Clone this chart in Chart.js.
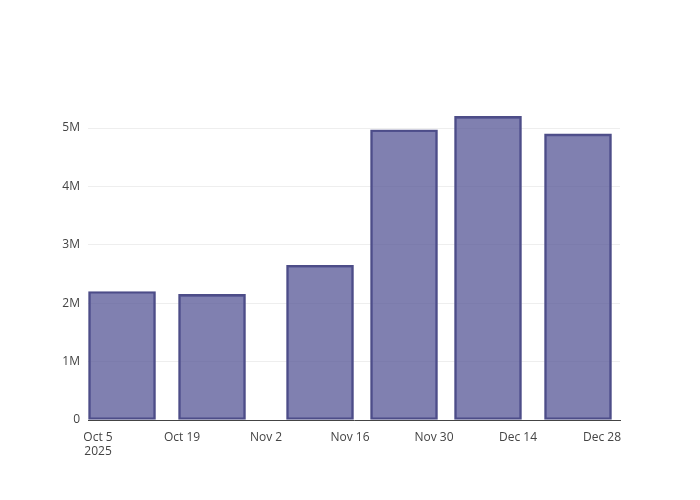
<!DOCTYPE html>
<html>
<head>
<script src="https://cdn.jsdelivr.net/npm/chart.js@4"></script>
<style>body{margin:0;background:#fff}#wrap{width:700px;height:500px}</style>
</head>
<body>
<div id="wrap"><canvas id="c"></canvas></div>
<script>
// days since Oct 5 2025
var barDays = [4, 19, 37, 51, 65, 80];
var barValues = [2200000, 2150000, 2650000, 4970000, 5200000, 4900000];
var tickDays = [0, 14, 28, 42, 56, 70, 84];
var tickLabels = [['Oct 5', '2025'], 'Oct 19', 'Nov 2', 'Nov 16', 'Nov 30', 'Dec 14', 'Dec 28'];

var ctx = document.getElementById('c').getContext('2d');
new Chart(ctx, {
    type: 'bar',
    data: {
        datasets: [{
            data: barDays.map((d, i) => ({x: d, y: barValues[i]})),
            backgroundColor: 'rgba(85, 85, 150, 0.75)',
            borderColor: '#4d4d88',
            borderWidth: 2,
            borderSkipped: false,
            barThickness: 67
        }]
    },
    options: {
        responsive: true,
        maintainAspectRatio: false,
        animation: false,
        layout: {padding: {left: 0, right: 80, top: 100, bottom: 0}},
        plugins: {legend: {display: false}, tooltip: {enabled: false}},
        scales: {
            x: {
                type: 'linear',
                offset: false,
                min: -1.67,
                max: 87,
                afterBuildTicks: function (s) { s.ticks = tickDays.map(v => ({value: v})); },
                afterFit: function (s) { s.height = 80; },
                ticks: {
                    color: '#444',
                    font: {size: 12, family: 'Open Sans'},
                    maxRotation: 0,
                    padding: 2,
                    callback: function (v) { return tickLabels[tickDays.indexOf(v)]; }
                },
                grid: {display: false, offset: false},
                border: {color: '#444', width: 1}
            },
            y: {
                min: 0,
                max: 5480000,
                afterBuildTicks: function (s) { s.ticks = [0, 1e6, 2e6, 3e6, 4e6, 5e6].map(v => ({value: v})); },
                afterFit: function (s) { s.width = 88; },
                ticks: {
                    color: '#444',
                    font: {size: 12, family: 'Open Sans'},
                    padding: 8,
                    callback: function (v) { return v === 0 ? '0' : (v / 1e6) + 'M'; }
                },
                grid: {color: '#eeeeee', drawTicks: false},
                border: {display: false}
            }
        }
    }
});
</script>
</body>
</html>
